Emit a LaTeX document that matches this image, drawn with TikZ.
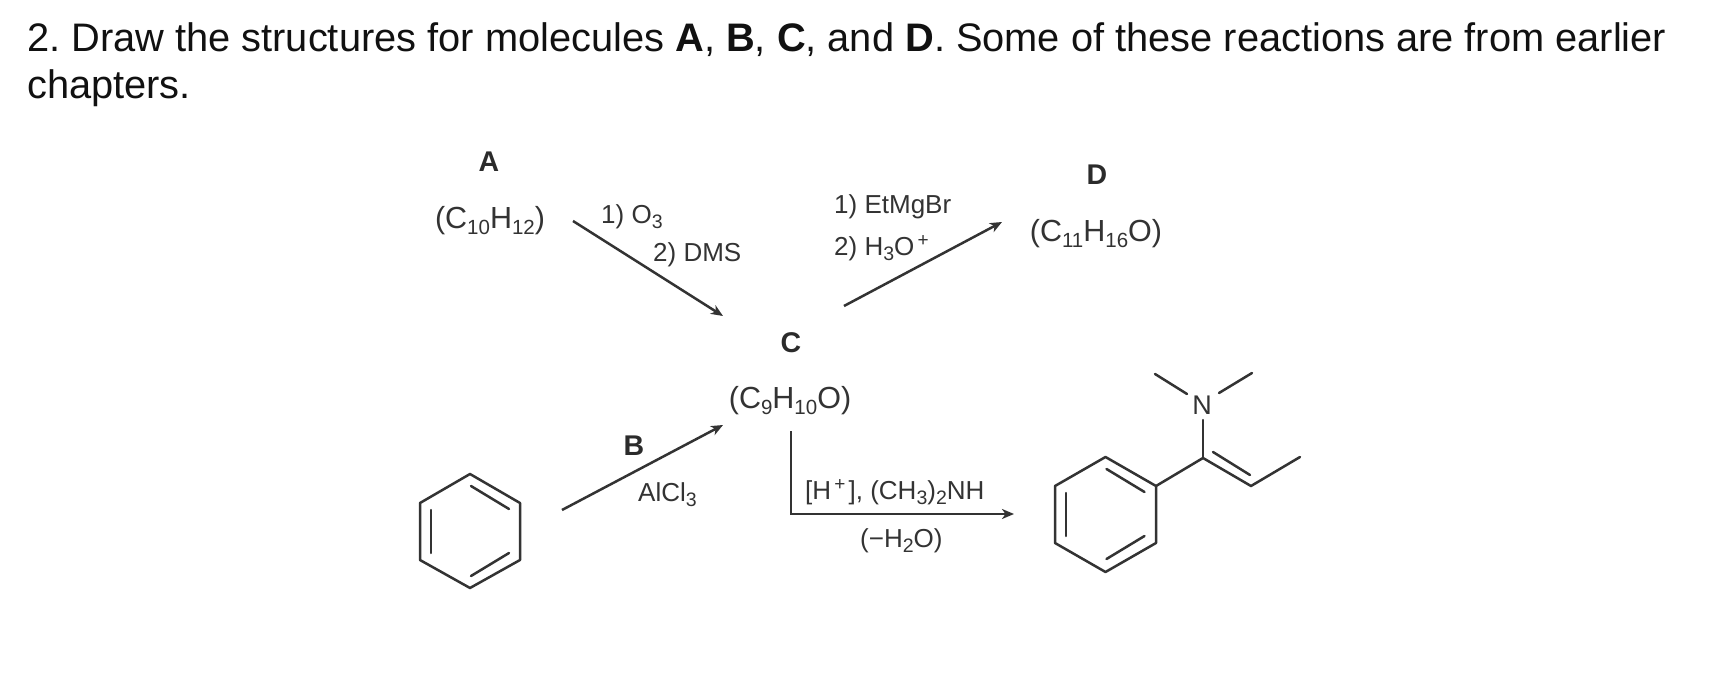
\documentclass[tikz,border=0pt]{standalone}
\usepackage{fontspec}
\setmainfont{Liberation Sans}
\usetikzlibrary{arrows.meta}
\definecolor{ink}{HTML}{333333}
\definecolor{headink}{HTML}{111111}
\newcommand\lo[1]{\raisebox{-5pt}{\fontsize{19.5}{19.5}\selectfont #1}}
\newcommand\lof[1]{\raisebox{-6pt}{\fontsize{20.5}{21}\selectfont #1}}
\newcommand\hi[1]{\raisebox{9pt}{\fontsize{19}{19}\selectfont\,#1\,}}
\tikzset{
  head/.style={inner sep=0pt,anchor=base west,text=headink,font=\fontsize{39.8}{45}\selectfont},
  formula/.style={inner sep=0pt,anchor=base,text=ink,font=\fontsize{30.5}{34}\selectfont},
  reagent/.style={inner sep=0pt,anchor=base west,text=ink,font=\fontsize{26}{30}\selectfont},
  letter/.style={inner sep=0pt,anchor=center,text=ink!85!black,font=\bfseries\fontsize{28.5}{30}\selectfont},
  atomlabel/.style={inner sep=0pt,anchor=center,text=ink,font=\fontsize{27}{30}\selectfont},
  bond/.style={draw=ink,line width=2.5pt,line cap=round,line join=round},
  rxn/.style={draw=ink,line width=2.5pt,-{Stealth[length=12pt,width=10pt,inset=3.5pt]}}
}
\begin{document}
\frenchspacing
\begin{tikzpicture}[x=1pt,y=-1pt]
\useasboundingbox (0,0) rectangle (1710,684);
\fill[white] (0,0) rectangle (1710,684);
% heading
\node[head] (h1) at (27,52) {2. Draw the structures for molecules \textbf{A}, \textbf{B}, \textbf{C}, and \textbf{D}. Some of these reactions are from earlier};
\node[head] (h2) at (27,99) {chapters.};
% letters and formulas
\node[letter] (lA) at (489,162) {A};
\node[letter] (lB) at (634,446) {B};
\node[letter] (lC) at (791,343) {C};
\node[letter] (lD) at (1097,175) {D};
\node[formula] (fA) at (490,229) {(C\lof{10}H\lof{12})};
\node[formula] (fC) at (790,408) {(C\lof{9}H\lof{10}O)};
\node[formula] (fD) at (1096,242) {(C\lof{11}H\lof{16}O)};
% reagents
\node[reagent] (r1) at (601,224) {1) O\lo{3}};
\node[reagent] (r2) at (653,262) {2) DMS};
\node[reagent] (r3) at (834,214) {1) EtMgBr};
\node[reagent] (r4) at (834,256) {2) H\lo{3}O\hi{+}};
\node[reagent] (r5) at (638,501) {AlCl\lo{3}};
\node[reagent] (r6) at (805,499) {[H\hi{+}], (CH\lo{3})\lo{2}NH};
\node[reagent] (r7) at (860,547) {(−H\lo{2}O)};
% arrow ends
\coordinate (a1s) at (573,221); \coordinate (a1e) at (723,316);
\coordinate (a2s) at (844,306); \coordinate (a2e) at (1002,222);
\coordinate (a3s) at (562,510); \coordinate (a3e) at (723,425);
\coordinate (a4s) at (791,431); \coordinate (a4m) at (791,514); \coordinate (a4e) at (1014,514);
\draw[rxn] (a1s) -- (a1e);
\draw[rxn] (a2s) -- (a2e);
\draw[rxn] (a3s) -- (a3e);
\draw[rxn] (a4s) -- (a4m) -- (a4e);
% left benzene
\coordinate (b1) at (470,474); \coordinate (b2) at (520,503); \coordinate (b3) at (520,560);
\coordinate (b4) at (470,588); \coordinate (b5) at (420,560); \coordinate (b6) at (420,503);
\draw[bond] (b1) -- (b2) -- (b3) -- (b4) -- (b5) -- (b6) -- cycle;
\draw[bond] (471,486) -- (509,509);
\draw[bond] (431,510) -- (431,553);
\draw[bond] (471,576) -- (509,553);
% product
\coordinate (p1) at (1105.5,457); \coordinate (p2) at (1156,486); \coordinate (p3) at (1156,543);
\coordinate (p4) at (1105.5,572); \coordinate (p5) at (1055,543); \coordinate (p6) at (1055,486);
\coordinate (c1) at (1203,458); \coordinate (c2) at (1251,486); \coordinate (c3) at (1300,457);
\coordinate (m1) at (1155,374); \coordinate (m2) at (1252,373);
\coordinate (m1b) at (1187,394); \coordinate (m2b) at (1219,393); \coordinate (nb) at (1203,420);
\node[atomlabel] (N) at (1202,405) {N};
\draw[bond] (p1) -- (p2) -- (p3) -- (p4) -- (p5) -- (p6) -- cycle;
\draw[bond] (1106.5,469) -- (1144.5,492);
\draw[bond] (1066,493) -- (1066,536);
\draw[bond] (1106.5,559) -- (1144.5,536);
\draw[bond] (p2) -- (c1) -- (c2) -- (c3);
\draw[bond] (1213,452) -- (1250,475);
\draw[bond] (c1) -- (nb);
\draw[bond] (m1) -- (m1b);
\draw[bond] (m2) -- (m2b);
\end{tikzpicture}
\end{document}
